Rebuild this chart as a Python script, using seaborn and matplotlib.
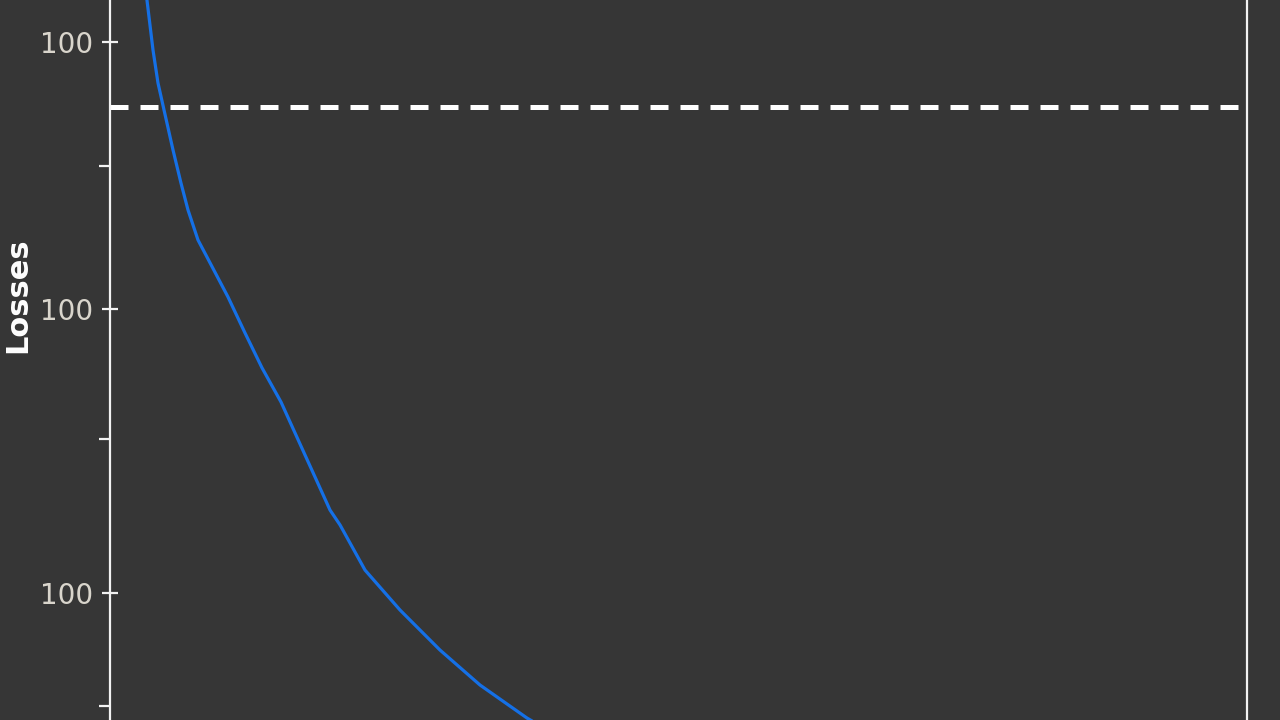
import matplotlib
matplotlib.use("Agg")
import matplotlib.pyplot as plt
import seaborn as sns
import pandas as pd

# values
epochs = [3.0, 3.25, 3.78, 4.22, 4.75, 5.54, 6.24, 6.86, 7.74, 8.80, 10.38, 11.87,
          13.37, 15.04, 16.27, 17.59, 19.35, 20.23, 22.43, 25.51, 29.02, 32.54,
          36.68, 39.5]
loss = [3.25, 3.143, 2.962, 2.842, 2.744, 2.599, 2.479, 2.381, 2.272, 2.189, 2.065,
        1.935, 1.808, 1.684, 1.572, 1.452, 1.292, 1.238, 1.074, 0.929, 0.784,
        0.657, 0.537, 0.47]
threshold = 2.755
major_ticks = [2.99, 2.02, 0.99]
major_labels = ["100", "100", "100"]
minor_ticks = [2.54, 1.55, 0.58]

bg = "#363636"
sns.set_theme(style="dark", rc={
    "figure.facecolor": bg,
    "axes.facecolor": bg,
    "axes.edgecolor": "#f2f2f2",
    "axes.grid": False,
})
plt.rcParams["font.family"] = ["DejaVu Sans"]

df = pd.DataFrame({"epoch": epochs, "loss": loss})

fig = plt.figure(figsize=(12.8, 7.2), dpi=100)
ax = fig.add_axes([110 / 1280, 0.0, (1247 - 110) / 1280, 1.0])

sns.lineplot(data=df, x="epoch", y="loss", ax=ax, color="#1570e6", linewidth=2.3)
ax.axhline(threshold, color="white", linewidth=3.6, dashes=(3.6, 2.4))

ax.set_xlim(0, 100)
ax.set_ylim(0.53, 3.143)

ax.spines["top"].set_visible(False)
ax.spines["bottom"].set_visible(False)
for s in ("left", "right"):
    ax.spines[s].set_linewidth(1.6)
    ax.spines[s].set_color("#f2f2f2")

ax.set_xticks([])
ax.set_xlabel("")
ax.set_ylabel("")
ax.set_yticks(major_ticks)
ax.set_yticklabels(major_labels)
ax.set_yticks(minor_ticks, minor=True)
ax.tick_params(axis="y", which="major", direction="inout", length=11, width=1.6,
               color="#f2f2f2", labelcolor="#d9d5cc", labelsize=20, pad=7, left=True)
ax.tick_params(axis="y", which="minor", direction="out", length=8, width=1.6,
               color="#f2f2f2", left=True)

fig.text(18 / 1280, 1 - 295 / 720, "Losses", rotation=90, color="white",
         fontsize=22, fontweight="bold", ha="center", va="center")

fig.savefig("out.png", dpi=100, facecolor=bg)
